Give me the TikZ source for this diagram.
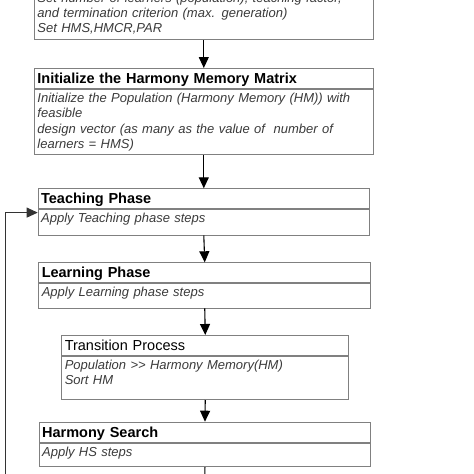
\documentclass[tikz,border=0pt]{standalone}
\usepackage{fontspec}
\setmainfont{Liberation Sans}
\usepackage{xcolor}
\usetikzlibrary{arrows.meta,positioning}

\definecolor{boxline}{HTML}{808080}
\definecolor{bodytext}{HTML}{3A3A3A}

\begin{document}
\begin{tikzpicture}[x=1pt,y=1pt,>={Triangle[length=11pt,width=10pt]},
  head/.style={draw=boxline,line width=.9pt,fill=white,anchor=north west,inner xsep=3pt,inner ysep=3pt,
    text height=12pt,text depth=2pt,align=left,font=\fontsize{14.5}{16}\selectfont\bfseries},
  body/.style={draw=boxline,line width=.9pt,inner xsep=3pt,inner ysep=3pt,
    align=left,text=bodytext,font=\fontsize{13}{15.5}\selectfont\itshape,
    execute at begin node={\rule{0pt}{10pt}}},
  low/.style={execute at end node={\rule[-#1]{0pt}{#1}}},
  link/.style={->,line width=1.1pt}]
\useasboundingbox (0,0) rectangle (474,-474);
\clip (0,0) rectangle (474,-474);

% initial settings (top cut off)
\node[body,anchor=south west,text width=332.7pt,low=4.5pt,
  font=\fontsize{13}{14.7}\selectfont\itshape] (setup) at (34,-40)
  {Set number of learners (population), teaching factor,\\and termination criterion (max. generation)\\Set HMS,HMCR,PAR};

% harmony memory
\node[head,text width=332.7pt] (hmT) at (34,-68) {Initialize the Harmony Memory Matrix};
\node[body,below=0pt of hmT,text width=332.7pt,low=2pt] (hmB)
  {Initialize the Population (Harmony Memory (HM)) with\\feasible\\design vector (as many as the value of~ number of\\learners = HMS)};

% TLBO phases
\node[head,text width=325.3pt] (teachT) at (37.7,-188.3) {Teaching Phase};
\node[body,below=0pt of teachT,text width=325.3pt,low=9.3pt] (teachB) {Apply Teaching phase steps};

\node[head,text width=326pt] (learnT) at (38.3,-262.3) {Learning Phase};
\node[body,below=0pt of learnT,text width=326pt,low=8.3pt] (learnB) {Apply Learning phase steps};

\node[head,text width=281pt,font=\fontsize{14.5}{16}\selectfont] (transT) at (61.3,-335) {Transition Process};
\node[body,below=0pt of transT,text width=281pt,low=11.7pt] (transB)
  {Population >{}> Harmony Memory(HM)\\Sort HM};

% harmony search
\node[head,text width=325.6pt] (hsT) at (38.7,-421.7) {Harmony Search};
\node[body,below=0pt of hsT,text width=325.6pt,low=7.6pt] (hsB) {Apply HS steps};

\coordinate (tail) at (204.7,-490);
\coordinate (back) at (5.3,-490);

% connectors
\draw[link] (setup.south) -- (hmT.north);
\draw[link] (hmB.south) -- (teachT.north);
\draw[link] (teachB.south) -- (learnT.north);
\draw[link] (learnB.south) -- (transT.north);
\draw[link] (transB.south) -- (hsT.north);
\draw[line width=1.1pt] (hsB.south) -- (tail);
\draw[link,draw=black!80,line width=.9pt] (back) |- ([yshift=-3.4pt]teachB.north west);
\end{tikzpicture}
\end{document}
